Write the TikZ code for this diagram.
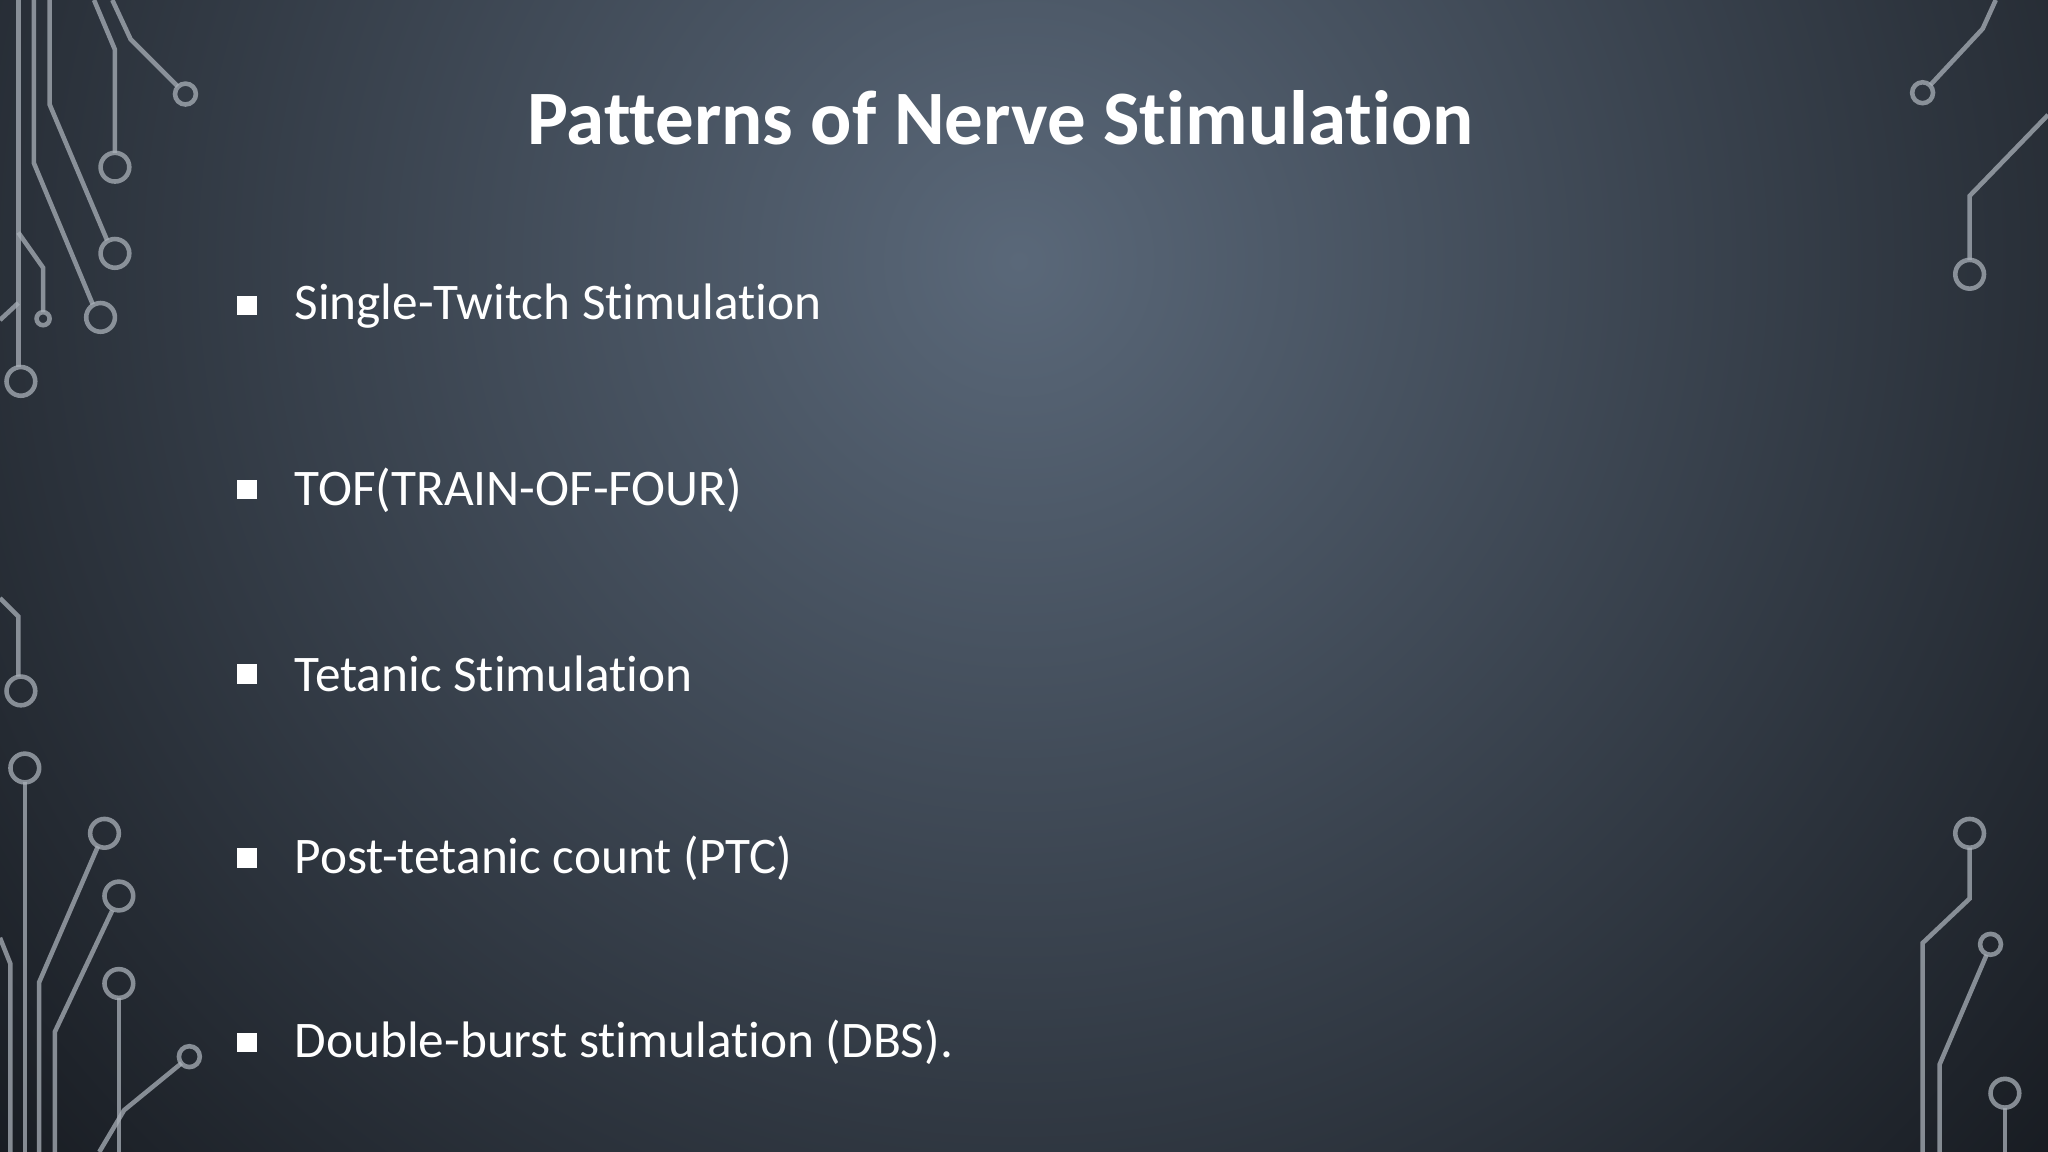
\documentclass[tikz,border=0pt]{standalone}
\usepackage{fontspec}
\setmainfont[Ligatures=NoCommon]{Carlito}
\definecolor{bginner}{HTML}{5A6879}
\definecolor{bgouter}{HTML}{181C22}
\definecolor{trace}{HTML}{A9B0B8}
\begin{document}
\begin{tikzpicture}[x=0.013061cm, y=-0.013061cm,
  item/.style={anchor=west, text=white, font=\fontsize{14.6}{17}\selectfont, inner sep=0pt},
  dot/.style={fill=white, minimum size=5.5pt, inner sep=0pt},
  wire/.style={draw=trace, line width=1.3pt, opacity=0.75},
  pad/.style={wire}]

% Background
\useasboundingbox (0,0) rectangle (1568,882);
\begin{scope}
  \clip (0,0) rectangle (1568,882);
  \fill[bgouter] (0,0) rectangle (1568,882);
  \shade[inner color=bginner, outer color=bgouter] (780,200) circle (1050);
\end{scope}

% Circuit traces, left
\draw[wire] (72,0) -- (88,38) -- (88,117);
\draw[pad] (88,128) circle (11);
\draw[wire] (86,0) -- (100,30) -- (136,66);
\draw[pad] (142,72) circle (8);
\draw[wire] (38,0) -- (38,80) -- (82,184);
\draw[pad] (88,194) circle (11);
\draw[wire] (26,0) -- (26,125) -- (71,233);
\draw[pad] (77,243) circle (11);
\draw[wire] (14,0) -- (14,281);
\draw[pad] (16,292) circle (11);
\draw[wire] (14,178) -- (33,205) -- (33,239);
\draw[pad] (33,244) circle (5);
\draw[wire] (0,245) -- (14,232);
\draw[wire] (0,458) -- (14,472) -- (14,518);
\draw[pad] (16,529) circle (11);
\draw[pad] (19,588) circle (11);
\draw[wire] (19,599) -- (19,882);
\draw[wire] (0,718) -- (8,738) -- (8,882);
\draw[wire] (30,882) -- (30,752) -- (75,648);
\draw[pad] (80,638) circle (11);
\draw[wire] (42,882) -- (42,790) -- (86,697);
\draw[pad] (91,686) circle (11);
\draw[wire] (91,882) -- (91,764);
\draw[pad] (91,753) circle (11);
\draw[wire] (76,882) -- (95,850) -- (139,814);
\draw[pad] (145,809) circle (8);

% Circuit traces, right
\draw[wire] (1528,0) -- (1518,22) -- (1478,65);
\draw[pad] (1472,71) circle (8);
\draw[wire] (1568,88) -- (1508,150) -- (1508,199);
\draw[pad] (1508,210) circle (11);
\draw[pad] (1508,638) circle (11);
\draw[wire] (1508,649) -- (1508,688) -- (1472,722) -- (1472,882);
\draw[pad] (1524,723) circle (8);
\draw[wire] (1521,731) -- (1485,815) -- (1485,882);
\draw[pad] (1535,837) circle (11);
\draw[wire] (1535,848) -- (1535,882);

% Title
\node[text=white, font=\bfseries\fontsize{21.9}{26}\selectfont, inner sep=0pt] (title) at (766,90) {Patterns of Nerve Stimulation};

% Bullets
\foreach \name/\ypos/\txt in {single/234/Single-Twitch Stimulation,
    tof/375/TOF(TRAIN-OF-FOUR),
    tetanic/516/Tetanic Stimulation,
    ptc/657/Post-tetanic count (PTC),
    dbs/798/Double-burst stimulation (DBS).}{
  \node[dot] (\name-dot) at (189,\ypos) {};
  \node[item] (\name) at (225,\ypos) {\txt};
}

\end{tikzpicture}
\end{document}
